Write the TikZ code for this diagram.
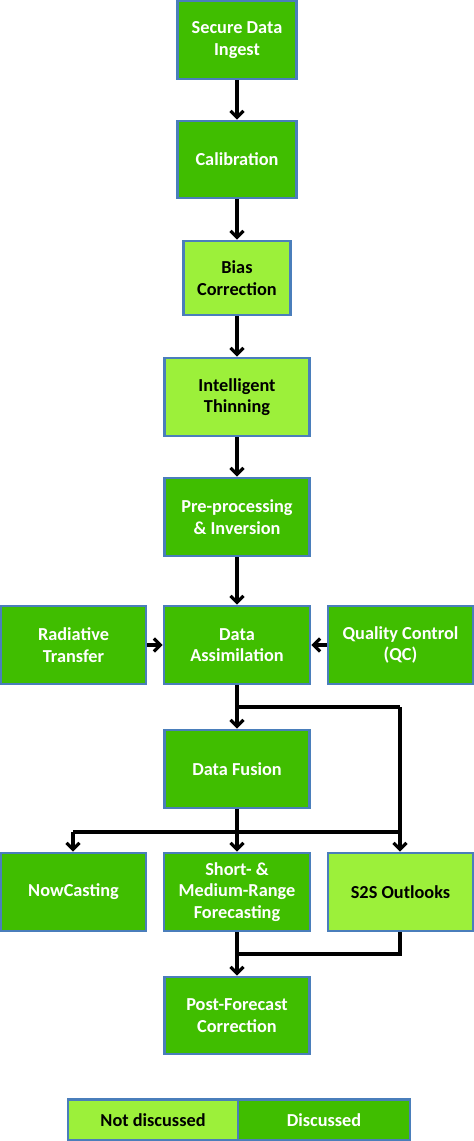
\documentclass[tikz,border=0pt]{standalone}
\usepackage{fontspec}
\setmainfont{Carlito}
\usetikzlibrary{arrows.meta}
\definecolor{dkgreen}{HTML}{40BE00}
\definecolor{ltgreen}{HTML}{9CF03A}
\definecolor{bordblue}{HTML}{4A7EBB}
\tikzset{
  box/.style={draw=bordblue, line width=2.6pt, inner sep=0pt, align=center,
    font=\fontsize{18.3}{21.5}\selectfont\bfseries},
  dk/.style={box, fill=dkgreen, text=white},
  lt/.style={box, fill=ltgreen, text=black},
  conn/.style={line width=3.2pt, -{Straight Barb[length=6.5pt,width=13pt,line width=3.2pt]}},
  plain/.style={line width=3.2pt},
}
\begin{document}
\begin{tikzpicture}[x=1pt,y=-1pt]
\useasboundingbox (0,0) rectangle (474,1141);
\node[dk, minimum width=119pt, minimum height=78pt] (sdi) at (237,40) {Secure Data\\Ingest};
\node[dk, minimum width=119pt, minimum height=77pt] (cal) at (237,159.5) {Calibration};
\node[lt, minimum width=107pt, minimum height=74pt] (bias) at (237,278) {Bias\\Correction};
\node[lt, minimum width=145pt, minimum height=78pt] (thin) at (237,397) {Intelligent\\Thinning};
\node[dk, minimum width=145pt, minimum height=78pt] (pre) at (237,517) {Pre-processing\\\& Inversion};
\node[dk, minimum width=146pt, minimum height=78pt] (da) at (237,645) {Data\\Assimilation};
\node[dk, minimum width=145pt, minimum height=78pt] (rt) at (73.5,645) {Radiative\\Transfer};
\node[dk, minimum width=145pt, minimum height=78pt] (qc) at (400.5,645) {Quality Control\\(QC)};
\node[dk, minimum width=145pt, minimum height=78pt] (df) at (237,769) {Data Fusion};
\node[dk, minimum width=145pt, minimum height=78pt] (now) at (73.5,892) {NowCasting};
\node[dk, minimum width=146pt, minimum height=78pt] (smr) at (237,892) {Short- \&\\Medium-Range\\Forecasting};
\node[lt, minimum width=145pt, minimum height=78pt] (s2s) at (400.5,892) {S2S Outlooks};
\node[dk, minimum width=145pt, minimum height=77pt] (post) at (237,1015.5) {Post-Forecast\\Correction};
\node[lt, minimum width=170pt, minimum height=41pt] (leg1) at (153,1120) {Not discussed};
\node[dk, minimum width=172pt, minimum height=41pt] (leg2) at (324,1120) {Discussed};

\coordinate (b1) at (237,707);
\coordinate (b1r) at (400,707);
\coordinate (b2) at (237,832);
\coordinate (b2l) at (73,832);
\coordinate (b2r) at (400,832);
\coordinate (m1) at (237,954);
\coordinate (m1r) at (400,954);

\draw[conn] (sdi.south) -- (cal.north);
\draw[conn] (cal.south) -- (bias.north);
\draw[conn] (bias.south) -- (thin.north);
\draw[conn] (thin.south) -- (pre.north);
\draw[conn] (pre.south) -- (da.north);
\draw[conn] (rt.east) -- (da.west);
\draw[conn] (qc.west) -- (da.east);
\draw[conn] (da.south) -- (df.north);
\draw[plain] (b1) -- (b1r);
\draw[conn] (b1r) -- (b1r |- s2s.north);
\draw[plain] (df.south) -- (b2);
\draw[plain] (b2l) -- (b2r);
\draw[conn] (b2l) -- (b2l |- now.north);
\draw[conn] (b2) -- (smr.north);
\draw[conn] (smr.south) -- (post.north);
\draw[plain] (s2s.south -| m1r) -- (m1r) -- (m1);
\end{tikzpicture}
\end{document}
